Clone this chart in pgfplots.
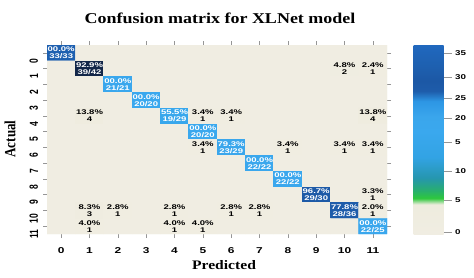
\documentclass[border=0pt]{standalone}
\usepackage{fontspec}
\setmainfont{Liberation Serif}[FakeStretch=1.2]
\newfontfamily\plainserif{Liberation Serif}
\newfontfamily\cellfont{Liberation Sans}[FakeStretch=1.4]
\newfontfamily\tickfont{Liberation Sans}
\usepackage{pgfplots}
\pgfplotsset{compat=1.18}

\definecolor{bgbeige}{RGB}{240,237,226}
\definecolor{tickgray}{RGB}{150,150,150}

\pgfplotsset{
  colormap={xlnet}{
    rgb255(0pt)=(240,237,226)
    rgb255(5.8pt)=(238,236,222)
    rgb255(7pt)=(45,200,60)
    rgb255(8.5pt)=(40,175,110)
    rgb255(11pt)=(38,150,175)
    rgb255(15pt)=(50,163,228)
    rgb255(20pt)=(58,168,238)
    rgb255(23pt)=(58,166,236)
    rgb255(26pt)=(45,150,228)
    rgb255(28pt)=(30,92,170)
    rgb255(30pt)=(28,88,165)
    rgb255(33pt)=(30,96,176)
    rgb255(37pt)=(32,104,190)
    rgb255(39pt)=(18,38,72)
  }
}

\begin{document}
\begin{tikzpicture}[x=1pt,y=1pt]
\useasboundingbox (0,0) rectangle (474,277);
\begin{axis}[
  at={(47pt,43pt)}, anchor=south west,
  scale only axis, width=340pt, height=189pt,
  xmin=-0.5, xmax=11.5, ymin=-0.5, ymax=11.5,
  y dir=reverse,
  axis background/.style={fill=bgbeige},
  axis line style={draw=none},
  tick align=outside,
  major tick length=4pt,
  tick style={tickgray, line width=0.6pt},
  xtick={0,1,2,3,4,5,6,7,8,9,10,11},
  ytick={0,1,2,3,4,5,6,7,8,9,10,11},
  xticklabels={0,1,2,3,4,5,6,7,8,9,10,11},
  yticklabels={0,1,2,3,4,5,6,7,8,9,10,11},
  xticklabel style={font=\cellfont\bfseries\fontsize{8.5}{9}\selectfont, yshift=-6pt},
  yticklabel style={font=\tickfont\bfseries\fontsize{8.5}{9}\selectfont, xscale=1.4, rotate=90, anchor=south, xshift=-8pt},
  colormap name=xlnet,
  point meta min=0, point meta max=39,
  colorbar,
  colorbar/width=30pt,
  colorbar style={
    at={(parent axis.north east)}, anchor=north west, xshift=18pt,
    scale only axis, width=30pt, height=189pt,
    ymin=0, ymax=37,
    ytick={0.4,6.66,12.3,18.0,22.7,26.6,30.7,35.4},
    yticklabels={0,5,10,5,20,25,30,35},
    ytick pos=right,
    axis line style={draw=none},
    tick align=outside, major tick length=8pt,
    ytick style={tickgray, line width=0.6pt},
    yticklabel style={font=\cellfont\bfseries\fontsize{7}{8}\selectfont},
  },
]
% cell counts (rows = actual class, columns = predicted class)
\addplot[matrix plot*, shader=flat corner, draw=none, mesh/cols=12, point meta=explicit] coordinates {
(0,0)[33] (1,0)[0] (2,0)[0] (3,0)[0] (4,0)[0] (5,0)[0] (6,0)[0] (7,0)[0] (8,0)[0] (9,0)[0] (10,0)[0] (11,0)[0]
(0,1)[0] (1,1)[39] (2,1)[0] (3,1)[0] (4,1)[0] (5,1)[0] (6,1)[0] (7,1)[0] (8,1)[0] (9,1)[0] (10,1)[2] (11,1)[1]
(0,2)[0] (1,2)[0] (2,2)[21] (3,2)[0] (4,2)[0] (5,2)[0] (6,2)[0] (7,2)[0] (8,2)[0] (9,2)[0] (10,2)[0] (11,2)[0]
(0,3)[0] (1,3)[0] (2,3)[0] (3,3)[20] (4,3)[0] (5,3)[0] (6,3)[0] (7,3)[0] (8,3)[0] (9,3)[0] (10,3)[0] (11,3)[0]
(0,4)[0] (1,4)[4] (2,4)[0] (3,4)[0] (4,4)[19] (5,4)[1] (6,4)[1] (7,4)[0] (8,4)[0] (9,4)[0] (10,4)[0] (11,4)[4]
(0,5)[0] (1,5)[0] (2,5)[0] (3,5)[0] (4,5)[0] (5,5)[20] (6,5)[0] (7,5)[0] (8,5)[0] (9,5)[0] (10,5)[0] (11,5)[0]
(0,6)[0] (1,6)[0] (2,6)[0] (3,6)[0] (4,6)[0] (5,6)[1] (6,6)[23] (7,6)[0] (8,6)[1] (9,6)[0] (10,6)[1] (11,6)[1]
(0,7)[0] (1,7)[0] (2,7)[0] (3,7)[0] (4,7)[0] (5,7)[0] (6,7)[0] (7,7)[22] (8,7)[0] (9,7)[0] (10,7)[0] (11,7)[0]
(0,8)[0] (1,8)[0] (2,8)[0] (3,8)[0] (4,8)[0] (5,8)[0] (6,8)[0] (7,8)[0] (8,8)[22] (9,8)[0] (10,8)[0] (11,8)[0]
(0,9)[0] (1,9)[0] (2,9)[0] (3,9)[0] (4,9)[0] (5,9)[0] (6,9)[0] (7,9)[0] (8,9)[0] (9,9)[29] (10,9)[0] (11,9)[1]
(0,10)[0] (1,10)[3] (2,10)[1] (3,10)[0] (4,10)[1] (5,10)[0] (6,10)[1] (7,10)[1] (8,10)[0] (9,10)[0] (10,10)[28] (11,10)[1]
(0,11)[0] (1,11)[1] (2,11)[0] (3,11)[0] (4,11)[1] (5,11)[1] (6,11)[0] (7,11)[0] (8,11)[0] (9,11)[0] (10,11)[0] (11,11)[22]
};
% diagonal annotations: percentage line
\addplot[draw=none, mark=none, point meta=explicit symbolic, nodes near coords,
  nodes near coords align={center},
  every node near coord/.append style={font=\cellfont\bfseries\fontsize{6.8}{7}\selectfont, text=white, inner sep=0pt, anchor=center, yshift=3.4pt}]
coordinates {
(0,0)[00.0\%] (1,1)[92.9\%] (2,2)[00.0\%] (3,3)[00.0\%] (4,4)[55.5\%] (5,5)[00.0\%]
(6,6)[79.3\%] (7,7)[00.0\%] (8,8)[00.0\%] (9,9)[96.7\%] (10,10)[77.8\%] (11,11)[00.0\%]
};
% diagonal annotations: count line
\addplot[draw=none, mark=none, point meta=explicit symbolic, nodes near coords,
  nodes near coords align={center},
  every node near coord/.append style={font=\cellfont\bfseries\fontsize{6.8}{7}\selectfont, text=white, inner sep=0pt, anchor=center, yshift=-3.6pt}]
coordinates {
(0,0)[33/33] (1,1)[39/42] (2,2)[21/21] (3,3)[20/20] (4,4)[19/29] (5,5)[20/20]
(6,6)[23/29] (7,7)[22/22] (8,8)[22/22] (9,9)[29/30] (10,10)[28/36] (11,11)[22/25]
};
% off-diagonal annotations: percentage line
\addplot[draw=none, mark=none, point meta=explicit symbolic, nodes near coords,
  nodes near coords align={center},
  every node near coord/.append style={font=\cellfont\bfseries\fontsize{6.8}{7}\selectfont, text=black, inner sep=0pt, anchor=center, yshift=3.4pt}]
coordinates {
(10,1)[4.8\%] (11,1)[2.4\%]
(1,4)[13.8\%] (5,4)[3.4\%] (6,4)[3.4\%] (11,4)[13.8\%]
(5,6)[3.4\%] (8,6)[3.4\%] (10,6)[3.4\%] (11,6)[3.4\%]
(11,9)[3.3\%]
(1,10)[8.3\%] (2,10)[2.8\%] (4,10)[2.8\%] (6,10)[2.8\%] (7,10)[2.8\%] (11,10)[2.0\%]
(1,11)[4.0\%] (4,11)[4.0\%] (5,11)[4.0\%]
};
% off-diagonal annotations: count line
\addplot[draw=none, mark=none, point meta=explicit symbolic, nodes near coords,
  nodes near coords align={center},
  every node near coord/.append style={font=\cellfont\bfseries\fontsize{6.8}{7}\selectfont, text=black, inner sep=0pt, anchor=center, yshift=-3.6pt}]
coordinates {
(10,1)[2] (11,1)[1]
(1,4)[4] (5,4)[1] (6,4)[1] (11,4)[4]
(5,6)[1] (8,6)[1] (10,6)[1] (11,6)[1]
(11,9)[1]
(1,10)[3] (2,10)[1] (4,10)[1] (6,10)[1] (7,10)[1] (11,10)[1]
(1,11)[1] (4,11)[1] (5,11)[1]
};
\end{axis}
\node[font=\bfseries\fontsize{15}{17}\selectfont] at (220,259) {Confusion matrix for XLNet model};
\node[font=\bfseries\fontsize{13}{15}\selectfont] at (224,11.5) {Predicted};
\node[font=\plainserif\bfseries\fontsize{13}{15}\selectfont, xscale=1.2, rotate=90] at (10,138) {Actual};
\end{tikzpicture}
\end{document}
